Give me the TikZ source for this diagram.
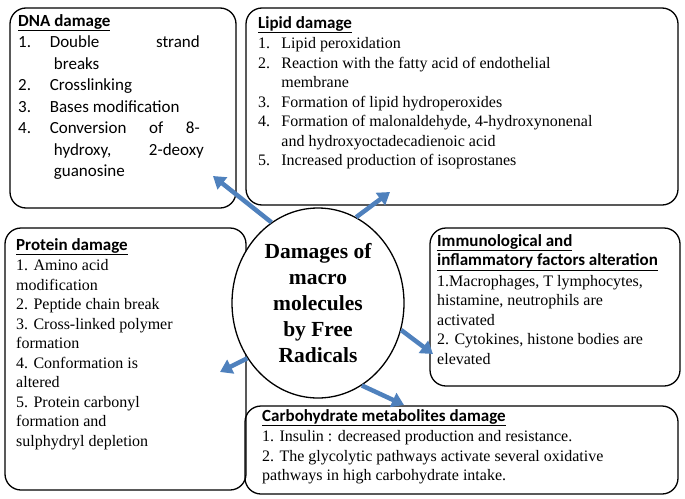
\documentclass[tikz,border=0pt]{standalone}
\usepackage{fontspec}
\setmainfont{Liberation Serif}
\newfontfamily\calfont{Carlito}
\usetikzlibrary{shapes.geometric,arrows.meta}
\begin{document}
\begin{tikzpicture}[x=1pt,y=-1pt,
  box/.style={draw=black,line width=1.3pt,rounded corners=16pt},
  txt/.style={anchor=north west,align=left,inner sep=0pt,font=\fontsize{16}{19.5}\selectfont},
  arr/.style={line width=4.5pt,-{Triangle[length=12pt,width=15pt]},color={rgb,255:red,79;green,129;blue,189}}]
\useasboundingbox (0,0) rectangle (685,498);
\draw[box] (10,8) rectangle (236,208);
\draw[box] (246,8) rectangle (678,205);
\draw[box] (5,228) rectangle (246,490);
\draw[box] (430,228) rectangle (680,386);
\draw[box] (245,406) rectangle (678,494);
% DNA
\node[txt,font=\calfont\fontsize{17}{21.5}\selectfont] (dna) at (18,14) {%
{\bfseries\underline{DNA damage}}\\
1.\hspace{1.1em}\hbox to 150pt{Double\hfill strand}\\
\hspace{2.1em}breaks\\
2.\hspace{1.1em}Crosslinking\\
3.\hspace{1.1em}Bases modification\\
4.\hspace{1.1em}\hbox to 150pt{Conversion\hfill of\hfill 8-}\\
\hspace{2.1em}\hbox to 150pt{hydroxy,\hfill 2-deoxy}\\
\hspace{2.1em}guanosine};
% Lipid
\node[txt] (lip) at (258,16) {%
{\calfont\bfseries\fontsize{17}{19}\selectfont\underline{Lipid damage}}\\[1pt]
1.\hspace{0.7em}Lipid peroxidation\\
2.\hspace{0.7em}Reaction with the fatty acid of endothelial\\
\hspace{1.45em}membrane\\
3.\hspace{0.7em}Formation of lipid hydroperoxides\\
4.\hspace{0.7em}Formation of malonaldehyde, 4-hydroxynonenal\\
\hspace{1.45em}and hydroxyoctadecadienoic acid\\
5.\hspace{0.7em}Increased production of isoprostanes};
% Protein
\node[txt] (pro) at (16,238) {%
{\calfont\bfseries\fontsize{17}{19}\selectfont\underline{Protein damage}}\\[1pt]
1. Amino acid\\
modification\\
2. Peptide chain break\\
3. Cross-linked polymer\\
formation\\
4. Conformation is\\
altered\\
5. Protein carbonyl\\
formation and\\
sulphydryl depletion};
% Immuno
\node[txt] (imm) at (437,234) {%
{\calfont\bfseries\fontsize{17}{19}\selectfont\underline{Immunological and}}\\
{\calfont\bfseries\fontsize{17}{19}\selectfont\underline{inflammatory factors alteration}}\\[1pt]
1.Macrophages, T lymphocytes,\\
histamine, neutrophils are\\
activated\\
2. Cytokines, histone bodies are\\
elevated};
% Carb
\node[txt] (car) at (262,409) {%
{\calfont\bfseries\fontsize{17}{19}\selectfont\underline{Carbohydrate metabolites damage}}\\[1pt]
1. Insulin : decreased production and resistance.\\
2. The glycolytic pathways activate several oxidative\\
pathways in high carbohydrate intake.};
% centre
\node[draw=black,line width=1.3pt,fill=white,ellipse,minimum width=172pt,minimum height=190pt,align=center,font=\bfseries\fontsize{21.5}{26}\selectfont] (c) at (318,303) {Damages of\\macro\\molecules\\by Free\\Radicals};
\coordinate (dnaE) at (213,176);
\coordinate (lipE) at (390,192);
\coordinate (proE) at (220,372);
\coordinate (immE) at (433,354);
\coordinate (carE) at (404,405);
\draw[arr] (c.120) -- (dnaE);
\draw[arr] (c.66) -- (lipE);
\draw[arr] (c.218) -- (proE);
\draw[arr] (c.-18) -- (immE);
\draw[arr] (c.-62) -- (carE);
\end{tikzpicture}
\end{document}
